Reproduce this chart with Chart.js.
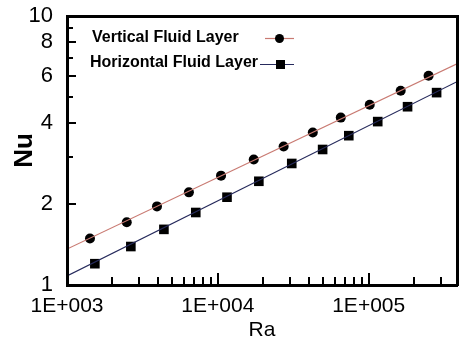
<!DOCTYPE html>
<html>
<head>
<meta charset="utf-8">
<script src="https://cdn.jsdelivr.net/npm/chart.js@4"></script>
<style>
  html, body { margin: 0; padding: 0; background: #fff; }
  #wrap { position: relative; width: 474px; height: 352px; }
</style>
</head>
<body>
<div id="wrap"><canvas id="nuChart" width="474" height="352"></canvas></div>
<script>
// Data
const raVertical = [1420, 2490, 3950, 6430, 10500, 17300, 27300, 42600, 65300, 101600, 163000, 249500];
const nuVertical = [1.49, 1.71, 1.96, 2.21, 2.55, 2.93, 3.27, 3.69, 4.19, 4.68, 5.27, 6.0];
const raHorizontal = [1530, 2650, 4390, 7140, 11500, 18700, 30900, 49500, 73800, 114800, 181000, 282000];
const nuHorizontal = [1.2, 1.39, 1.61, 1.86, 2.12, 2.43, 2.83, 3.19, 3.59, 4.05, 4.6, 5.19];

// correlation lines
const fitRa = [1000, 385000];
const fitVertical = [1.36, 6.64];
const fitHorizontal = [1.08, 5.70];

// axis ticks
const xTickValues = [1000, 2000, 3000, 4000, 5000, 6000, 7000, 8000, 9000,
                     10000, 20000, 30000, 40000, 50000, 60000, 70000, 80000, 90000,
                     100000, 200000, 300000];
const xTickLabels = { 1000: '1E+003', 10000: '1E+004', 100000: '1E+005' };
const yTickValues = [1, 2, 3, 4, 5, 6, 7, 8, 9, 10];
const yTickLabels = [1, 2, 4, 6, 8, 10];

const seriesNames = ['Vertical Fluid Layer', 'Horizontal Fluid Layer'];
const redLine = '#c97a72';
const blueLine = '#262a5c';
const FONT = '"Liberation Sans", Arial, sans-serif';

function toPoints(xs, ys) {
    return xs.map((x, i) => ({ x: x, y: ys[i] }));
}

// inward ticks, frame and the legend
const framePlugin = {
    id: 'frame',
    afterDraw(chart) {
        const c = chart.ctx;
        const area = chart.chartArea;
        const xs = chart.scales.x;
        const ys = chart.scales.y;
        c.save();
        c.fillStyle = '#000';
        xs.ticks.forEach(t => {
            const px = Math.round(xs.getPixelForValue(t.value));
            const len = xTickLabels[t.value] ? 12 : 8;
            c.fillRect(px - 1, area.bottom - len, 2, len);
        });
        ys.ticks.forEach(t => {
            const py = Math.round(ys.getPixelForValue(t.value));
            const len = yTickLabels.includes(t.value) ? 9 : 6;
            c.fillRect(area.left, py - 1, len, 2);
        });

        // box round the plot
        const l = Math.round(area.left), r = Math.round(area.right);
        const t = Math.round(area.top), b = Math.round(area.bottom);
        c.fillRect(l - 1, t - 1, r - l + 2, 3);
        c.fillRect(l - 1, b - 1, r - l + 2, 3);
        c.fillRect(l - 1, t - 1, 3, b - t + 2);
        c.fillRect(r - 1, t - 1, 3, b - t + 2);

        // legend
        c.font = 'bold 16px ' + FONT;
        c.textBaseline = 'middle';
        c.textAlign = 'left';
        c.fillText(seriesNames[0], 92, 38);
        c.fillText(seriesNames[1], 90, 63);

        c.lineWidth = 1.2;
        c.strokeStyle = redLine;
        c.beginPath();
        c.moveTo(265, 38.5);
        c.lineTo(294, 38.5);
        c.stroke();
        c.beginPath();
        c.arc(279.5, 38.5, 4.5, 0, Math.PI * 2);
        c.fill();

        c.strokeStyle = blueLine;
        c.beginPath();
        c.moveTo(260, 64.5);
        c.lineTo(294, 64.5);
        c.stroke();
        c.fillRect(276, 60, 9, 9);
        c.restore();
    }
};

const ctx = document.getElementById('nuChart').getContext('2d');
new Chart(ctx, {
    type: 'scatter',
    data: {
        datasets: [
            {
                label: 'fit vertical',
                data: toPoints(fitRa, fitVertical),
                showLine: true,
                borderColor: redLine,
                borderWidth: 1.2,
                pointRadius: 0
            },
            {
                label: 'fit horizontal',
                data: toPoints(fitRa, fitHorizontal),
                showLine: true,
                borderColor: blueLine,
                borderWidth: 1.2,
                pointRadius: 0
            },
            {
                label: seriesNames[0],
                data: toPoints(raVertical, nuVertical),
                pointStyle: 'circle',
                pointRadius: 5,
                backgroundColor: '#000',
                borderColor: '#000',
                borderWidth: 0
            },
            {
                label: seriesNames[1],
                data: toPoints(raHorizontal, nuHorizontal),
                pointStyle: 'rect',
                pointRadius: 6.8,
                backgroundColor: '#000',
                borderColor: '#000',
                borderWidth: 0
            }
        ]
    },
    options: {
        responsive: false,
        animation: false,
        devicePixelRatio: 1,
        layout: { padding: { top: 16, right: 17, left: 0, bottom: 0 } },
        plugins: {
            legend: { display: false },
            tooltip: { enabled: false }
        },
        scales: {
            x: {
                type: 'logarithmic',
                min: 1000,
                max: 385000,
                grid: { display: false },
                border: { display: false },
                afterBuildTicks: s => { s.ticks = xTickValues.map(v => ({ value: v })); },
                afterFit: s => { s.height = 67; s.paddingLeft = 0; s.paddingRight = 0; },
                ticks: {
                    autoSkip: false,
                    maxRotation: 0,
                    padding: 1,
                    color: '#000',
                    font: { family: FONT, size: 21 },
                    callback: v => xTickLabels[v] || ''
                },
                title: {
                    display: true,
                    text: 'Ra',
                    color: '#000',
                    font: { family: FONT, size: 21 },
                    padding: { top: 0, bottom: 9 }
                }
            },
            y: {
                type: 'logarithmic',
                min: 1,
                max: 10,
                grid: { display: false },
                border: { display: false },
                afterBuildTicks: s => { s.ticks = yTickValues.map(v => ({ value: v })); },
                afterFit: s => { s.width = 67; s.paddingTop = 0; s.paddingBottom = 0; },
                ticks: {
                    autoSkip: false,
                    padding: 6,
                    color: '#000',
                    font: { family: FONT, size: 22 },
                    callback: v => yTickLabels.includes(v) ? String(v) : ''
                },
                title: {
                    display: true,
                    text: 'Nu',
                    color: '#000',
                    font: { family: FONT, size: 26, weight: 'bold' },
                    padding: { top: 9, bottom: 0 }
                }
            }
        }
    },
    plugins: [framePlugin]
});
</script>
</body>
</html>
